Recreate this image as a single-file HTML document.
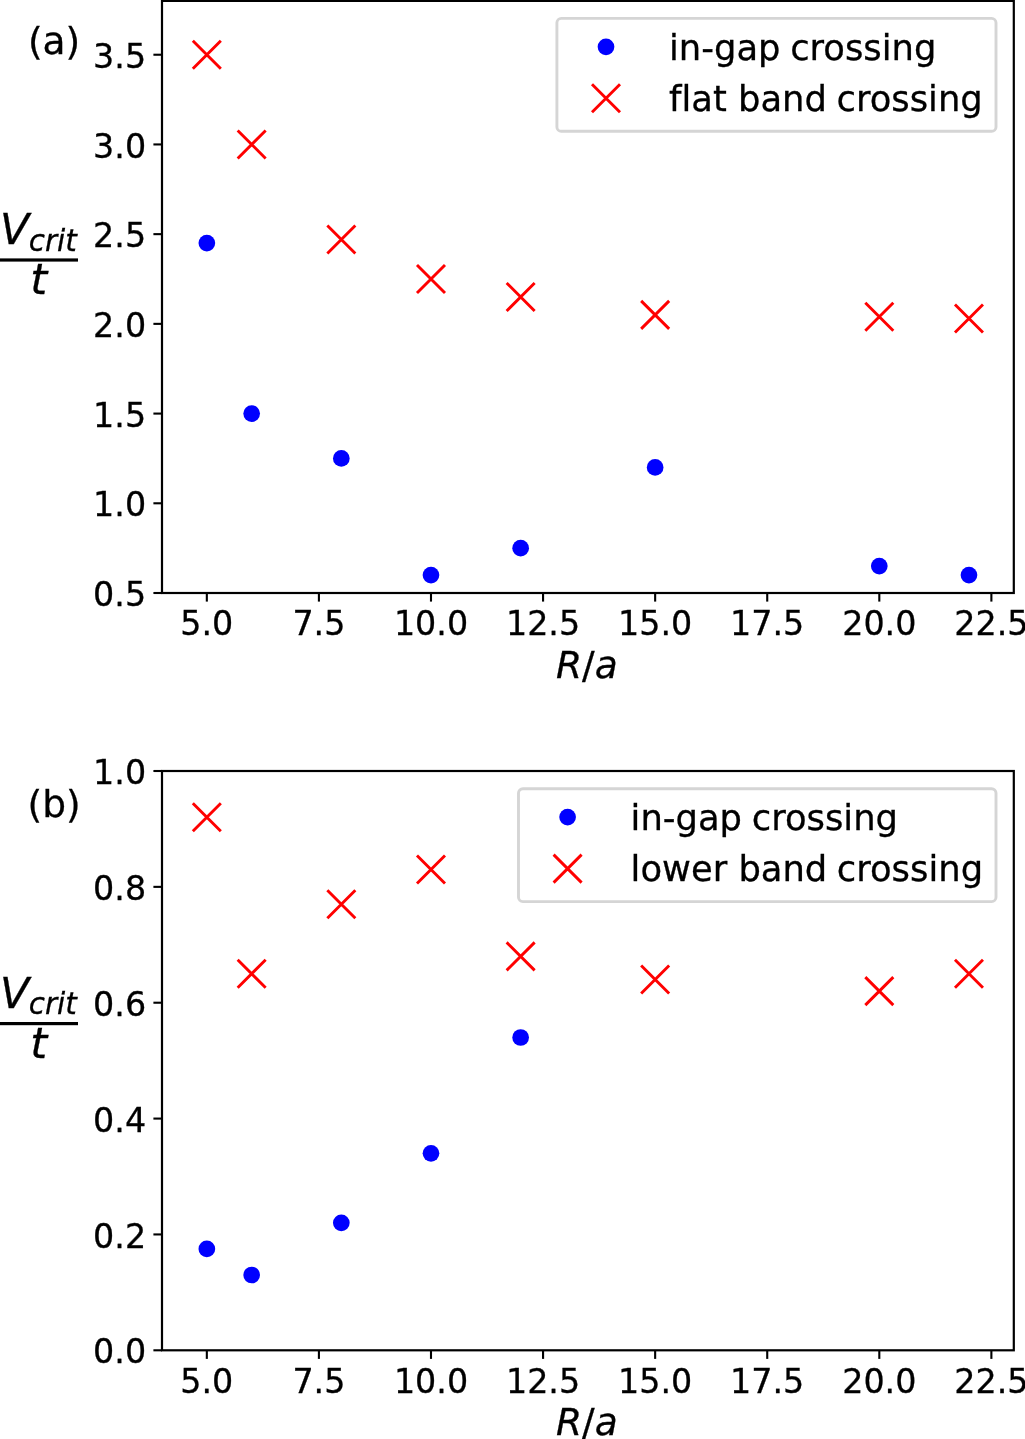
<!DOCTYPE html>
<html><head><meta charset="utf-8"><title>Vcrit vs R/a</title>
<style>
html,body{margin:0;padding:0;background:#fff;}
svg{display:block;}
text{font-family:"DejaVu Sans", "Liberation Sans", sans-serif;fill:#000;stroke:#000;stroke-width:0.3px;font-variant-ligatures:none;font-feature-settings:"liga" 0,"clig" 0;font-kerning:normal;}
</style></head><body>
<svg width="1025" height="1439" viewBox="0 0 1025 1439">
<rect width="1025" height="1439" fill="#fff"/>
<circle cx="206.83" cy="243.12" r="8.35" fill="#0000ff"/>
<circle cx="251.66" cy="413.58" r="8.35" fill="#0000ff"/>
<circle cx="341.33" cy="458.43" r="8.35" fill="#0000ff"/>
<circle cx="430.99" cy="575.06" r="8.35" fill="#0000ff"/>
<circle cx="520.65" cy="548.14" r="8.35" fill="#0000ff"/>
<circle cx="655.15" cy="467.40" r="8.35" fill="#0000ff"/>
<circle cx="879.31" cy="566.09" r="8.35" fill="#0000ff"/>
<circle cx="968.97" cy="575.06" r="8.35" fill="#0000ff"/>
<path d="M192.83 40.73L220.83 68.73M192.83 68.73L220.83 40.73" stroke="#ff0000" stroke-width="2.9" fill="none"/>
<path d="M237.66 130.44L265.66 158.44M237.66 158.44L265.66 130.44" stroke="#ff0000" stroke-width="2.9" fill="none"/>
<path d="M327.33 225.53L355.33 253.53M327.33 253.53L355.33 225.53" stroke="#ff0000" stroke-width="2.9" fill="none"/>
<path d="M416.99 265.01L444.99 293.01M416.99 293.01L444.99 265.01" stroke="#ff0000" stroke-width="2.9" fill="none"/>
<path d="M506.65 282.95L534.65 310.95M506.65 310.95L534.65 282.95" stroke="#ff0000" stroke-width="2.9" fill="none"/>
<path d="M641.15 300.89L669.15 328.89M641.15 328.89L669.15 300.89" stroke="#ff0000" stroke-width="2.9" fill="none"/>
<path d="M865.31 302.69L893.31 330.69M865.31 330.69L893.31 302.69" stroke="#ff0000" stroke-width="2.9" fill="none"/>
<path d="M954.97 304.48L982.97 332.48M954.97 332.48L982.97 304.48" stroke="#ff0000" stroke-width="2.9" fill="none"/>
<line x1="206.83" x2="206.83" y1="593.00" y2="601.60" stroke="#000" stroke-width="2.1"/>
<text x="206.83" y="635.40" text-anchor="middle" font-size="33.33">5.0</text>
<line x1="318.91" x2="318.91" y1="593.00" y2="601.60" stroke="#000" stroke-width="2.1"/>
<text x="318.91" y="635.40" text-anchor="middle" font-size="33.33">7.5</text>
<line x1="430.99" x2="430.99" y1="593.00" y2="601.60" stroke="#000" stroke-width="2.1"/>
<text x="430.99" y="635.40" text-anchor="middle" font-size="33.33">10.0</text>
<line x1="543.07" x2="543.07" y1="593.00" y2="601.60" stroke="#000" stroke-width="2.1"/>
<text x="543.07" y="635.40" text-anchor="middle" font-size="33.33">12.5</text>
<line x1="655.15" x2="655.15" y1="593.00" y2="601.60" stroke="#000" stroke-width="2.1"/>
<text x="655.15" y="635.40" text-anchor="middle" font-size="33.33">15.0</text>
<line x1="767.23" x2="767.23" y1="593.00" y2="601.60" stroke="#000" stroke-width="2.1"/>
<text x="767.23" y="635.40" text-anchor="middle" font-size="33.33">17.5</text>
<line x1="879.31" x2="879.31" y1="593.00" y2="601.60" stroke="#000" stroke-width="2.1"/>
<text x="879.31" y="635.40" text-anchor="middle" font-size="33.33">20.0</text>
<line x1="991.38" x2="991.38" y1="593.00" y2="601.60" stroke="#000" stroke-width="2.1"/>
<text x="991.38" y="635.40" text-anchor="middle" font-size="33.33">22.5</text>
<line x1="153.40" x2="162.00" y1="593.00" y2="593.00" stroke="#000" stroke-width="2.1"/>
<text x="146.10" y="606.10" text-anchor="end" font-size="33.33">0.5</text>
<line x1="153.40" x2="162.00" y1="503.29" y2="503.29" stroke="#000" stroke-width="2.1"/>
<text x="146.10" y="516.39" text-anchor="end" font-size="33.33">1.0</text>
<line x1="153.40" x2="162.00" y1="413.58" y2="413.58" stroke="#000" stroke-width="2.1"/>
<text x="146.10" y="426.68" text-anchor="end" font-size="33.33">1.5</text>
<line x1="153.40" x2="162.00" y1="323.86" y2="323.86" stroke="#000" stroke-width="2.1"/>
<text x="146.10" y="336.96" text-anchor="end" font-size="33.33">2.0</text>
<line x1="153.40" x2="162.00" y1="234.15" y2="234.15" stroke="#000" stroke-width="2.1"/>
<text x="146.10" y="247.25" text-anchor="end" font-size="33.33">2.5</text>
<line x1="153.40" x2="162.00" y1="144.44" y2="144.44" stroke="#000" stroke-width="2.1"/>
<text x="146.10" y="157.54" text-anchor="end" font-size="33.33">3.0</text>
<line x1="153.40" x2="162.00" y1="54.73" y2="54.73" stroke="#000" stroke-width="2.1"/>
<text x="146.10" y="67.83" text-anchor="end" font-size="33.33">3.5</text>
<rect x="162.00" y="0.90" width="851.80" height="592.10" fill="none" stroke="#000" stroke-width="2.2"/>
<text x="586.90" y="677.80" text-anchor="middle" font-size="37.5" font-style="italic">R<tspan font-style="normal">/</tspan>a</text>
<text x="27.9" y="54.4" font-size="37.5">(a)</text>
<text x="-0.1" y="243.90" font-size="42.6" font-style="italic">V<tspan font-size="29.5" dx="-0.3" dy="6.6">crit</tspan></text>
<rect x="0" y="258.40" width="78" height="3.2" fill="#000"/>
<text x="30.3" y="294.00" font-size="43.2" font-style="italic">t</text>
<rect x="556.9" y="18.4" width="439.1" height="112.9" rx="4.4" ry="4.4" fill="#fff" fill-opacity="0.8" stroke="#d5d5d5" stroke-width="2.9"/>
<circle cx="606.00" cy="46.80" r="8.35" fill="#0000ff"/>
<text x="669" y="59.6" font-size="35.35">in-gap<tspan dx="-1.5"> crossing</tspan></text>
<path d="M592.00 84.30L620.00 112.30M592.00 112.30L620.00 84.30" stroke="#ff0000" stroke-width="2.9" fill="none"/>
<text x="669" y="110.8" font-size="35.35">flat band<tspan dx="-1.6"> crossing</tspan></text>
<circle cx="206.83" cy="1248.92" r="8.35" fill="#0000ff"/>
<circle cx="251.66" cy="1274.99" r="8.35" fill="#0000ff"/>
<circle cx="341.33" cy="1222.85" r="8.35" fill="#0000ff"/>
<circle cx="430.99" cy="1153.34" r="8.35" fill="#0000ff"/>
<circle cx="520.65" cy="1037.48" r="8.35" fill="#0000ff"/>
<path d="M192.83 803.34L220.83 831.34M192.83 831.34L220.83 803.34" stroke="#ff0000" stroke-width="2.9" fill="none"/>
<path d="M237.66 959.75L265.66 987.75M237.66 987.75L265.66 959.75" stroke="#ff0000" stroke-width="2.9" fill="none"/>
<path d="M327.33 890.24L355.33 918.24M327.33 918.24L355.33 890.24" stroke="#ff0000" stroke-width="2.9" fill="none"/>
<path d="M416.99 855.48L444.99 883.48M416.99 883.48L444.99 855.48" stroke="#ff0000" stroke-width="2.9" fill="none"/>
<path d="M506.65 942.38L534.65 970.38M506.65 970.38L534.65 942.38" stroke="#ff0000" stroke-width="2.9" fill="none"/>
<path d="M641.15 965.55L669.15 993.55M641.15 993.55L669.15 965.55" stroke="#ff0000" stroke-width="2.9" fill="none"/>
<path d="M865.31 977.13L893.31 1005.13M865.31 1005.13L893.31 977.13" stroke="#ff0000" stroke-width="2.9" fill="none"/>
<path d="M954.97 959.75L982.97 987.75M954.97 987.75L982.97 959.75" stroke="#ff0000" stroke-width="2.9" fill="none"/>
<line x1="206.83" x2="206.83" y1="1350.30" y2="1358.90" stroke="#000" stroke-width="2.1"/>
<text x="206.83" y="1392.70" text-anchor="middle" font-size="33.33">5.0</text>
<line x1="318.91" x2="318.91" y1="1350.30" y2="1358.90" stroke="#000" stroke-width="2.1"/>
<text x="318.91" y="1392.70" text-anchor="middle" font-size="33.33">7.5</text>
<line x1="430.99" x2="430.99" y1="1350.30" y2="1358.90" stroke="#000" stroke-width="2.1"/>
<text x="430.99" y="1392.70" text-anchor="middle" font-size="33.33">10.0</text>
<line x1="543.07" x2="543.07" y1="1350.30" y2="1358.90" stroke="#000" stroke-width="2.1"/>
<text x="543.07" y="1392.70" text-anchor="middle" font-size="33.33">12.5</text>
<line x1="655.15" x2="655.15" y1="1350.30" y2="1358.90" stroke="#000" stroke-width="2.1"/>
<text x="655.15" y="1392.70" text-anchor="middle" font-size="33.33">15.0</text>
<line x1="767.23" x2="767.23" y1="1350.30" y2="1358.90" stroke="#000" stroke-width="2.1"/>
<text x="767.23" y="1392.70" text-anchor="middle" font-size="33.33">17.5</text>
<line x1="879.31" x2="879.31" y1="1350.30" y2="1358.90" stroke="#000" stroke-width="2.1"/>
<text x="879.31" y="1392.70" text-anchor="middle" font-size="33.33">20.0</text>
<line x1="991.38" x2="991.38" y1="1350.30" y2="1358.90" stroke="#000" stroke-width="2.1"/>
<text x="991.38" y="1392.70" text-anchor="middle" font-size="33.33">22.5</text>
<line x1="153.40" x2="162.00" y1="1350.30" y2="1350.30" stroke="#000" stroke-width="2.1"/>
<text x="146.10" y="1363.40" text-anchor="end" font-size="33.33">0.0</text>
<line x1="153.40" x2="162.00" y1="1234.44" y2="1234.44" stroke="#000" stroke-width="2.1"/>
<text x="146.10" y="1247.54" text-anchor="end" font-size="33.33">0.2</text>
<line x1="153.40" x2="162.00" y1="1118.58" y2="1118.58" stroke="#000" stroke-width="2.1"/>
<text x="146.10" y="1131.68" text-anchor="end" font-size="33.33">0.4</text>
<line x1="153.40" x2="162.00" y1="1002.72" y2="1002.72" stroke="#000" stroke-width="2.1"/>
<text x="146.10" y="1015.82" text-anchor="end" font-size="33.33">0.6</text>
<line x1="153.40" x2="162.00" y1="886.86" y2="886.86" stroke="#000" stroke-width="2.1"/>
<text x="146.10" y="899.96" text-anchor="end" font-size="33.33">0.8</text>
<line x1="153.40" x2="162.00" y1="771.00" y2="771.00" stroke="#000" stroke-width="2.1"/>
<text x="146.10" y="784.10" text-anchor="end" font-size="33.33">1.0</text>
<rect x="162.00" y="771.00" width="851.80" height="579.30" fill="none" stroke="#000" stroke-width="2.2"/>
<text x="586.90" y="1435.10" text-anchor="middle" font-size="37.5" font-style="italic">R<tspan font-style="normal">/</tspan>a</text>
<text x="27.6" y="816.8" font-size="37.5">(b)</text>
<text x="-0.1" y="1007.50" font-size="42.6" font-style="italic">V<tspan font-size="29.5" dx="-0.3" dy="6.6">crit</tspan></text>
<rect x="0" y="1022.00" width="78" height="3.2" fill="#000"/>
<text x="30.3" y="1057.60" font-size="43.2" font-style="italic">t</text>
<rect x="518.5" y="788.7" width="477.5" height="112.89999999999998" rx="4.4" ry="4.4" fill="#fff" fill-opacity="0.8" stroke="#d5d5d5" stroke-width="2.9"/>
<circle cx="567.60" cy="817.10" r="8.35" fill="#0000ff"/>
<text x="630.6" y="829.9" font-size="35.35">in-gap<tspan dx="-1.5"> crossing</tspan></text>
<path d="M553.60 854.60L581.60 882.60M553.60 882.60L581.60 854.60" stroke="#ff0000" stroke-width="2.9" fill="none"/>
<text x="630.6" y="881.1" font-size="35.35">lower band<tspan dx="-1.7"> crossing</tspan></text>
</svg>
</body></html>
